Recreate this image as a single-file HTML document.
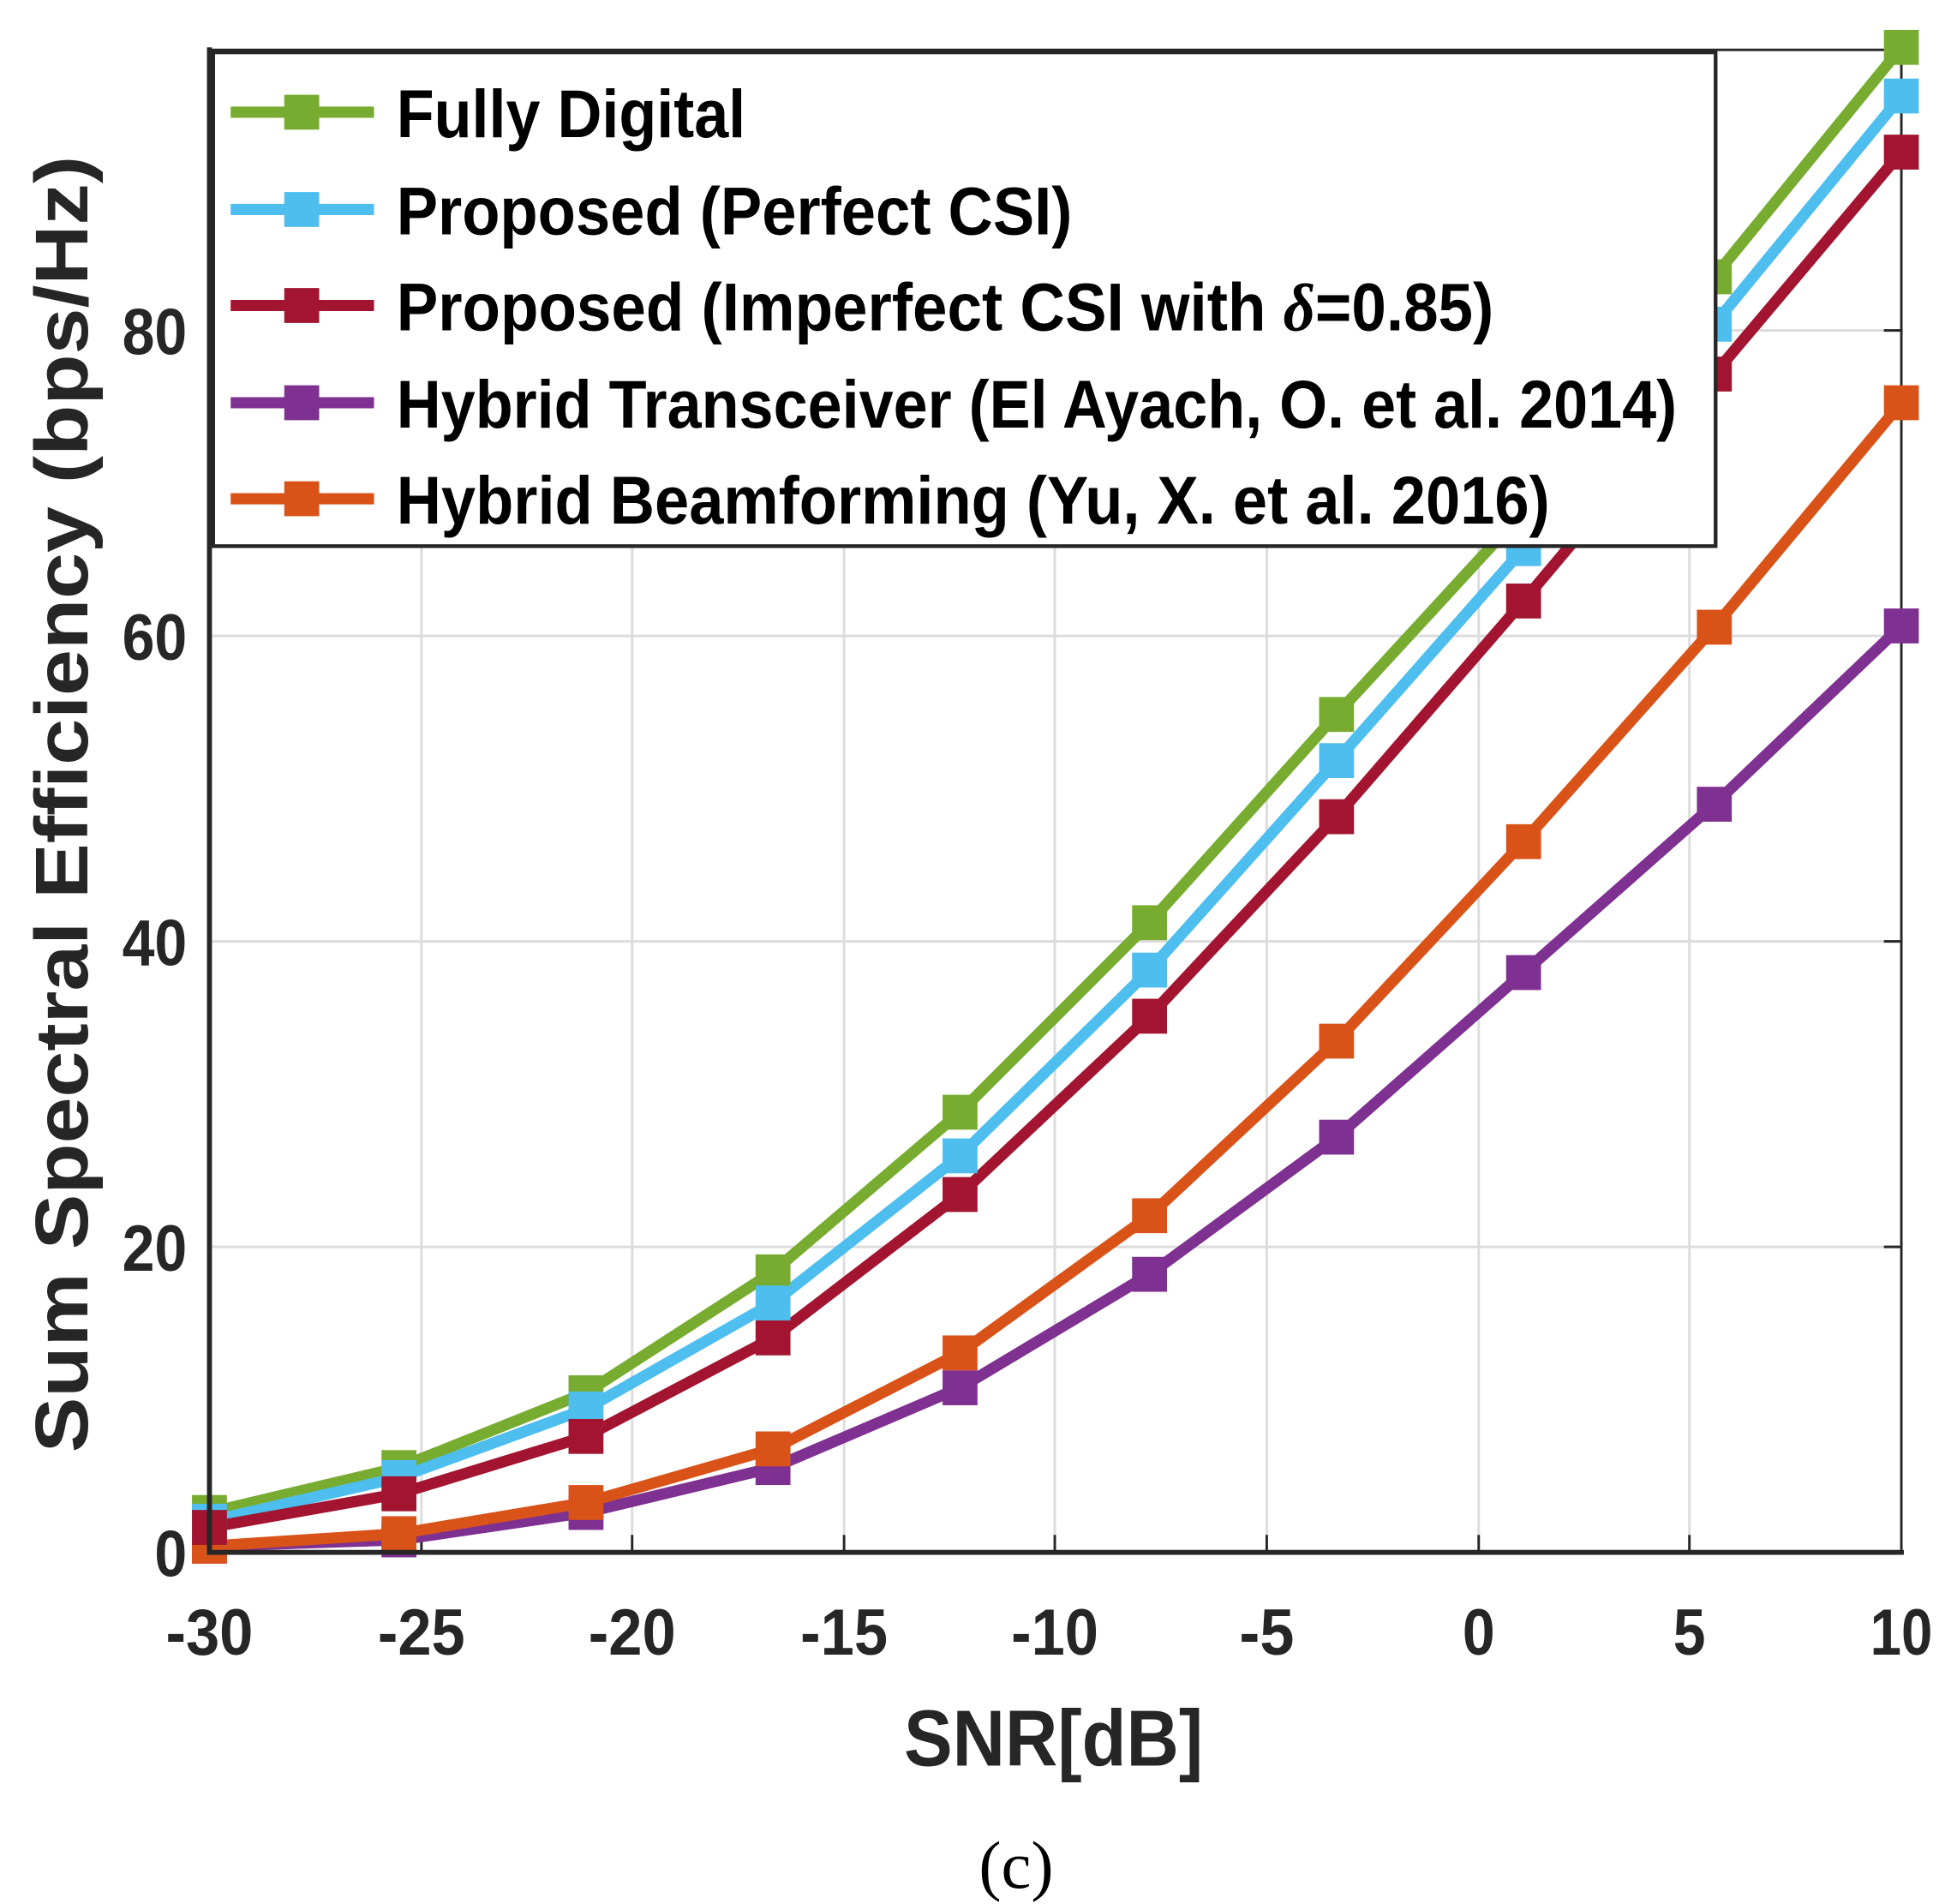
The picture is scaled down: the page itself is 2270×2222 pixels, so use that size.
<!DOCTYPE html>
<html><head><style>html,body{margin:0;padding:0;background:#fff}svg{display:block}</style></head>
<body>
<svg width="2270" height="2222" viewBox="0 0 1560 1527" preserveAspectRatio="none" xmlns="http://www.w3.org/2000/svg" font-family="'Liberation Sans Narrow','Liberation Sans',sans-serif" font-weight="bold">
<g stroke="#dcdcdc" stroke-width="2">
<line x1="338" y1="40" x2="338" y2="1245"/><line x1="507" y1="40" x2="507" y2="1245"/><line x1="677" y1="40" x2="677" y2="1245"/><line x1="846" y1="40" x2="846" y2="1245"/><line x1="1016" y1="40" x2="1016" y2="1245"/><line x1="1186" y1="40" x2="1186" y2="1245"/><line x1="1355" y1="40" x2="1355" y2="1245"/>
<line x1="168" y1="1000" x2="1525" y2="1000"/><line x1="168" y1="755" x2="1525" y2="755"/><line x1="168" y1="510" x2="1525" y2="510"/><line x1="168" y1="265" x2="1525" y2="265"/>
</g>
<g stroke="#262626" stroke-width="2">
<line x1="338" y1="1245" x2="338" y2="1231"/><line x1="507" y1="1245" x2="507" y2="1231"/><line x1="677" y1="1245" x2="677" y2="1231"/><line x1="846" y1="1245" x2="846" y2="1231"/><line x1="1016" y1="1245" x2="1016" y2="1231"/><line x1="1186" y1="1245" x2="1186" y2="1231"/><line x1="1355" y1="1245" x2="1355" y2="1231"/>
<line x1="1525" y1="1000" x2="1511" y2="1000"/><line x1="1525" y1="755" x2="1511" y2="755"/><line x1="1525" y1="510" x2="1511" y2="510"/><line x1="1525" y1="265" x2="1511" y2="265"/>
<line x1="168" y1="40" x2="1525" y2="40"/><line x1="1525" y1="40" x2="1525" y2="1245"/>
</g>
<g fill="none" stroke-width="9" stroke-linejoin="miter">
<polyline stroke="#7e3190" points="168,1240 320,1235 470,1213 620,1177 770,1113 922,1022 1072,912 1222,780 1375,645 1525,502"/>
<polyline stroke="#d95319" points="168,1240 320,1230 470,1205 620,1162 770,1085 922,975 1072,835 1222,675 1375,503 1525,323"/>
<polyline stroke="#77ac30" points="168,1213 320,1177 470,1117 620,1020 770,892 922,740 1072,573 1222,410 1375,222 1525,38"/>
<polyline stroke="#4dbeee" points="168,1220 320,1185 470,1130 620,1045 770,927 922,778 1072,610 1222,440 1375,260 1525,77"/>
<polyline stroke="#a2142f" points="168,1225 320,1198 470,1152 620,1073 770,958 922,815 1072,655 1222,482 1375,300 1525,122"/>
</g>
<g>
<g fill="#7e3190"><rect x="154" y="1226" width="28" height="28"/><rect x="306" y="1221" width="28" height="28"/><rect x="456" y="1199" width="28" height="28"/><rect x="606" y="1163" width="28" height="28"/><rect x="756" y="1099" width="28" height="28"/><rect x="908" y="1008" width="28" height="28"/><rect x="1058" y="898" width="28" height="28"/><rect x="1208" y="766" width="28" height="28"/><rect x="1361" y="631" width="28" height="28"/><rect x="1511" y="488" width="28" height="28"/></g>
<g fill="#d95319"><rect x="154" y="1226" width="28" height="28"/><rect x="306" y="1216" width="28" height="28"/><rect x="456" y="1191" width="28" height="28"/><rect x="606" y="1148" width="28" height="28"/><rect x="756" y="1071" width="28" height="28"/><rect x="908" y="961" width="28" height="28"/><rect x="1058" y="821" width="28" height="28"/><rect x="1208" y="661" width="28" height="28"/><rect x="1361" y="489" width="28" height="28"/><rect x="1511" y="309" width="28" height="28"/></g>
<g fill="#77ac30"><rect x="154" y="1199" width="28" height="28"/><rect x="306" y="1163" width="28" height="28"/><rect x="456" y="1103" width="28" height="28"/><rect x="606" y="1006" width="28" height="28"/><rect x="756" y="878" width="28" height="28"/><rect x="908" y="726" width="28" height="28"/><rect x="1058" y="559" width="28" height="28"/><rect x="1361" y="208" width="28" height="28"/><rect x="1511" y="24" width="28" height="28"/></g>
<g fill="#4dbeee"><rect x="154" y="1206" width="28" height="28"/><rect x="306" y="1171" width="28" height="28"/><rect x="456" y="1116" width="28" height="28"/><rect x="606" y="1031" width="28" height="28"/><rect x="756" y="913" width="28" height="28"/><rect x="908" y="764" width="28" height="28"/><rect x="1058" y="596" width="28" height="28"/><rect x="1208" y="426" width="28" height="28"/><rect x="1361" y="246" width="28" height="28"/><rect x="1511" y="63" width="28" height="28"/></g>
<g fill="#a2142f"><rect x="154" y="1211" width="28" height="28"/><rect x="306" y="1184" width="28" height="28"/><rect x="456" y="1138" width="28" height="28"/><rect x="606" y="1059" width="28" height="28"/><rect x="756" y="944" width="28" height="28"/><rect x="908" y="801" width="28" height="28"/><rect x="1058" y="641" width="28" height="28"/><rect x="1208" y="468" width="28" height="28"/><rect x="1361" y="286" width="28" height="28"/><rect x="1511" y="108" width="28" height="28"/></g>
</g>
<g stroke="#262626" stroke-width="4"><line x1="168" y1="38" x2="168" y2="1247"/><line x1="166" y1="1245" x2="1527" y2="1245"/></g>
<rect x="171" y="42" width="1205" height="396" fill="#fff" stroke="#262626" stroke-width="3"/>
<g stroke-width="9">
<line x1="185" y1="90" x2="300" y2="90" stroke="#77ac30"/><rect x="228" y="76" width="28" height="28" fill="#77ac30"/>
<line x1="185" y1="168" x2="300" y2="168" stroke="#4dbeee"/><rect x="228" y="154" width="28" height="28" fill="#4dbeee"/>
<line x1="185" y1="245" x2="300" y2="245" stroke="#a2142f"/><rect x="228" y="231" width="28" height="28" fill="#a2142f"/>
<line x1="185" y1="323" x2="300" y2="323" stroke="#7e3190"/><rect x="228" y="309" width="28" height="28" fill="#7e3190"/>
<line x1="185" y1="400" x2="300" y2="400" stroke="#d95319"/><rect x="228" y="386" width="28" height="28" fill="#d95319"/>
</g>
<g font-size="54" fill="#000">
<text x="318" y="110" textLength="280" lengthAdjust="spacingAndGlyphs">Fully Digital</text>
<text x="318" y="188" textLength="542" lengthAdjust="spacingAndGlyphs">Proposed (Perfect CSI)</text>
<text x="318" y="265" textLength="880" lengthAdjust="spacingAndGlyphs">Proposed (Imperfect CSI with <tspan font-family="'Liberation Serif',serif" font-style="italic">δ</tspan>=0.85)</text>
<text x="318" y="343" textLength="1027" lengthAdjust="spacingAndGlyphs">Hybrid Transceiver (El Ayach, O. et al. 2014)</text>
<text x="318" y="420" textLength="925" lengthAdjust="spacingAndGlyphs">Hybrid Beamforming (Yu, X. et al. 2016)</text>
</g>
<g font-size="52" fill="#262626" text-anchor="middle">
<text x="168" y="1327" textLength="70" lengthAdjust="spacingAndGlyphs">-30</text>
<text x="338" y="1327" textLength="70" lengthAdjust="spacingAndGlyphs">-25</text>
<text x="507" y="1327" textLength="70" lengthAdjust="spacingAndGlyphs">-20</text>
<text x="677" y="1327" textLength="70" lengthAdjust="spacingAndGlyphs">-15</text>
<text x="846" y="1327" textLength="70" lengthAdjust="spacingAndGlyphs">-10</text>
<text x="1016" y="1327" textLength="44" lengthAdjust="spacingAndGlyphs">-5</text>
<text x="1186" y="1327" textLength="26" lengthAdjust="spacingAndGlyphs">0</text>
<text x="1355" y="1327" textLength="26" lengthAdjust="spacingAndGlyphs">5</text>
<text x="1525" y="1327" textLength="50" lengthAdjust="spacingAndGlyphs">10</text>
</g>
<g font-size="52" fill="#262626" text-anchor="end">
<text x="150" y="1264" textLength="26" lengthAdjust="spacingAndGlyphs">0</text><text x="150" y="1019" textLength="52" lengthAdjust="spacingAndGlyphs">20</text><text x="150" y="774" textLength="52" lengthAdjust="spacingAndGlyphs">40</text><text x="150" y="529" textLength="52" lengthAdjust="spacingAndGlyphs">60</text><text x="150" y="284" textLength="52" lengthAdjust="spacingAndGlyphs">80</text>
</g>
<text x="845" y="1416" font-size="64" fill="#262626" text-anchor="middle" textLength="240" lengthAdjust="spacingAndGlyphs">SNR[dB]</text>
<text transform="translate(70,645) rotate(-90)" font-size="60" fill="#262626" text-anchor="middle" textLength="1040" lengthAdjust="spacingAndGlyphs">Sum Spectral Efficiency (bps/Hz)</text>
<text x="815" y="1514" font-size="54" font-weight="normal" font-family="'Liberation Serif',serif" text-anchor="middle">(c)</text>
</svg>
</body></html>
